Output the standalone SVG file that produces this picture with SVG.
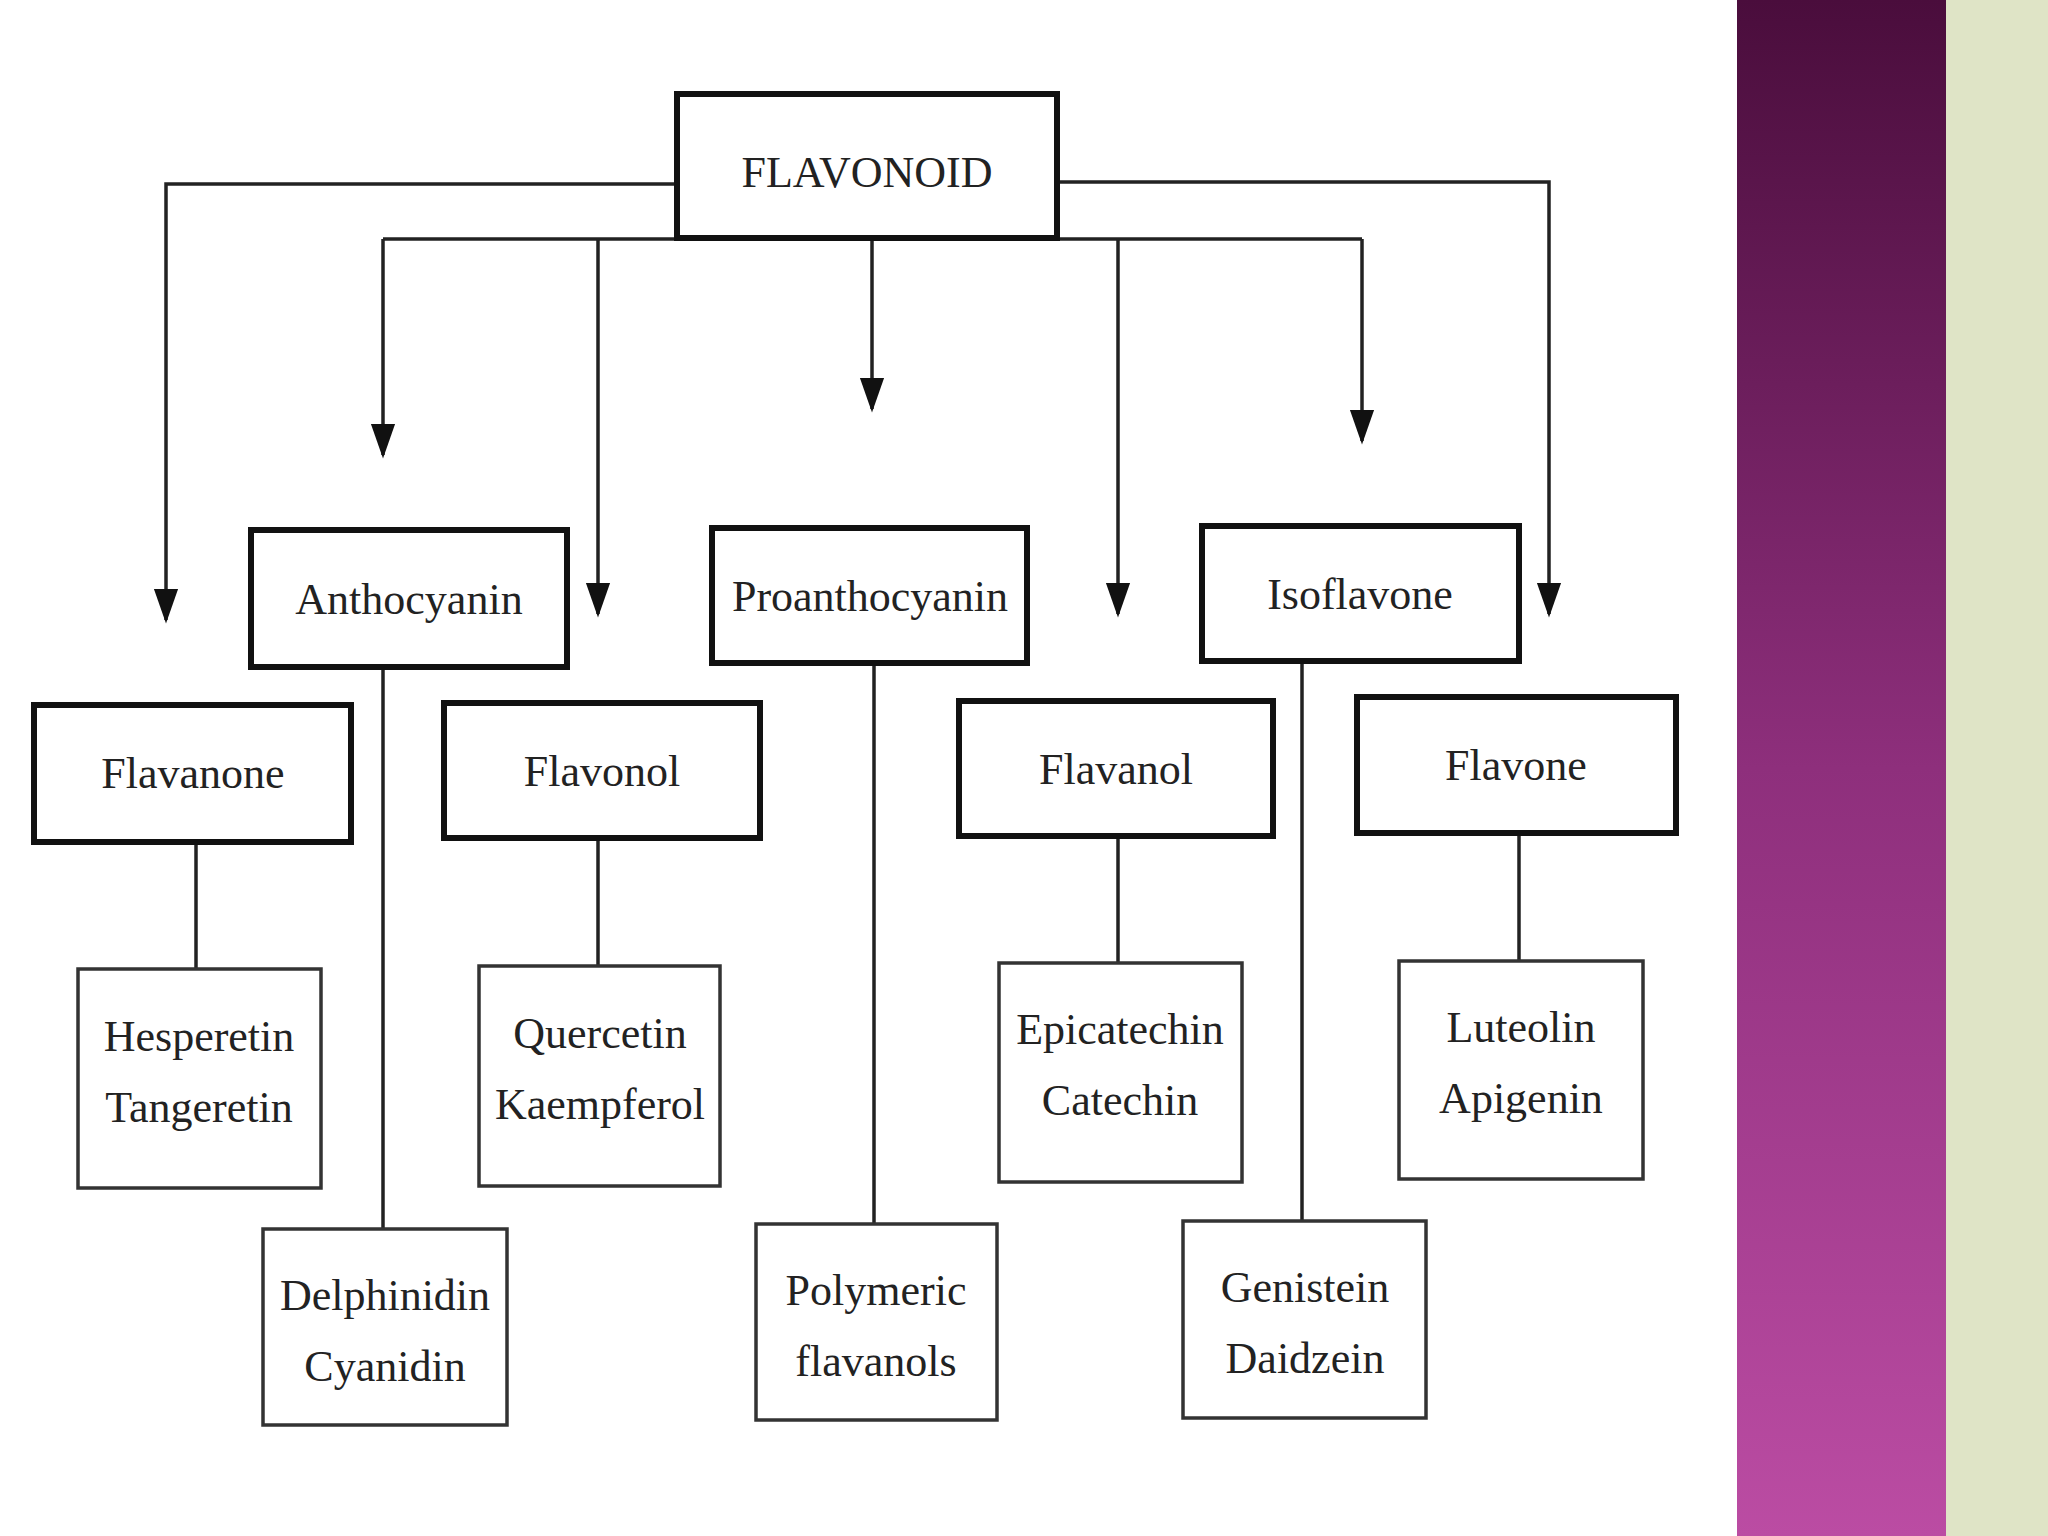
<svg xmlns="http://www.w3.org/2000/svg" width="2048" height="1536" viewBox="0 0 2048 1536">
<defs>
<linearGradient id="pg" x1="0" y1="0" x2="0" y2="1">
<stop offset="0" stop-color="#4a0d3c"/><stop offset="0.5" stop-color="#8e2f7c"/><stop offset="1" stop-color="#bb4ca3"/>
</linearGradient>
<marker id="ar" viewBox="0 0 10 10" refX="10" refY="5" markerWidth="6" markerHeight="8" markerUnits="userSpaceOnUse" orient="auto"><path d="M0,0 L10,5 L0,10 z" fill="#111"/></marker>
<marker id="a" viewBox="0 0 10 10" refX="9" refY="5" markerWidth="10" markerHeight="10" orient="auto" markerUnits="strokeWidth"><path d="M0,1.5 L10,5 L0,8.5 z" fill="#111"/></marker>
</defs>
<style>
.thick{fill:#fff;stroke:#111;stroke-width:6}
.thin{fill:#fff;stroke:#333;stroke-width:3.5}
.c{fill:none;stroke:#222;stroke-width:3.5}
text{font-family:"Liberation Serif",serif;font-size:44px;fill:#222;text-anchor:middle}
</style>
<rect width="2048" height="1536" fill="#fff"/>
<rect x="1737" y="0" width="209" height="1536" fill="url(#pg)"/>
<rect x="1946" y="0" width="102" height="1536" fill="#dfe4c6"/>
<g id="connectors">
<path class="c" d="M677,184 H166 V620" marker-end="url(#a)"/>
<path class="c" d="M383,239 H1362"/>
<path class="c" d="M383,239 V455" marker-end="url(#a)"/>
<path class="c" d="M598,239 V614" marker-end="url(#a)"/>
<path class="c" d="M872,239 V409" marker-end="url(#a)"/>
<path class="c" d="M1118,239 V614" marker-end="url(#a)"/>
<path class="c" d="M1362,239 V441" marker-end="url(#a)"/>
<path class="c" d="M1057,182 H1549 V614" marker-end="url(#a)"/>
<path class="c" d="M196,842 V969"/>
<path class="c" d="M383,667 V1229"/>
<path class="c" d="M598,838 V966"/>
<path class="c" d="M874,663 V1224"/>
<path class="c" d="M1118,836 V963"/>
<path class="c" d="M1302,661 V1221"/>
<path class="c" d="M1519,833 V961"/>
</g>
<g id="flavonoid"><rect class="thick" x="677" y="94" width="380" height="144"/><text x="867" y="187" font-size="54">FLAVONOID</text></g>
<g id="anthocyanin"><rect class="thick" x="251" y="530" width="316" height="137"/><text x="409" y="614">Anthocyanin</text></g>
<g id="proanthocyanin"><rect class="thick" x="712" y="528" width="315" height="135"/><text x="870" y="611">Proanthocyanin</text></g>
<g id="isoflavone"><rect class="thick" x="1202" y="526" width="317" height="135"/><text x="1360" y="609">Isoflavone</text></g>
<g id="flavanone"><rect class="thick" x="34" y="705" width="317" height="137"/><text x="193" y="788">Flavanone</text></g>
<g id="flavonol"><rect class="thick" x="444" y="703" width="316" height="135"/><text x="602" y="786">Flavonol</text></g>
<g id="flavanol"><rect class="thick" x="959" y="701" width="314" height="135"/><text x="1116" y="784">Flavanol</text></g>
<g id="flavone"><rect class="thick" x="1357" y="697" width="319" height="136"/><text x="1516" y="780">Flavone</text></g>
<g id="hesperetin"><rect class="thin" x="78" y="969" width="243" height="219"/><text x="199" y="1051">Hesperetin</text><text x="199" y="1122">Tangeretin</text></g>
<g id="quercetin"><rect class="thin" x="479" y="966" width="241" height="220"/><text x="600" y="1048">Quercetin</text><text x="600" y="1119">Kaempferol</text></g>
<g id="epicatechin"><rect class="thin" x="999" y="963" width="243" height="219"/><text x="1120" y="1044">Epicatechin</text><text x="1120" y="1115">Catechin</text></g>
<g id="luteolin"><rect class="thin" x="1399" y="961" width="244" height="218"/><text x="1521" y="1042">Luteolin</text><text x="1521" y="1113">Apigenin</text></g>
<g id="delphinidin"><rect class="thin" x="263" y="1229" width="244" height="196"/><text x="385" y="1310">Delphinidin</text><text x="385" y="1381">Cyanidin</text></g>
<g id="polymeric"><rect class="thin" x="756" y="1224" width="241" height="196"/><text x="876" y="1305">Polymeric</text><text x="876" y="1376">flavanols</text></g>
<g id="genistein"><rect class="thin" x="1183" y="1221" width="243" height="197"/><text x="1305" y="1302">Genistein</text><text x="1305" y="1373">Daidzein</text></g>
</svg>
